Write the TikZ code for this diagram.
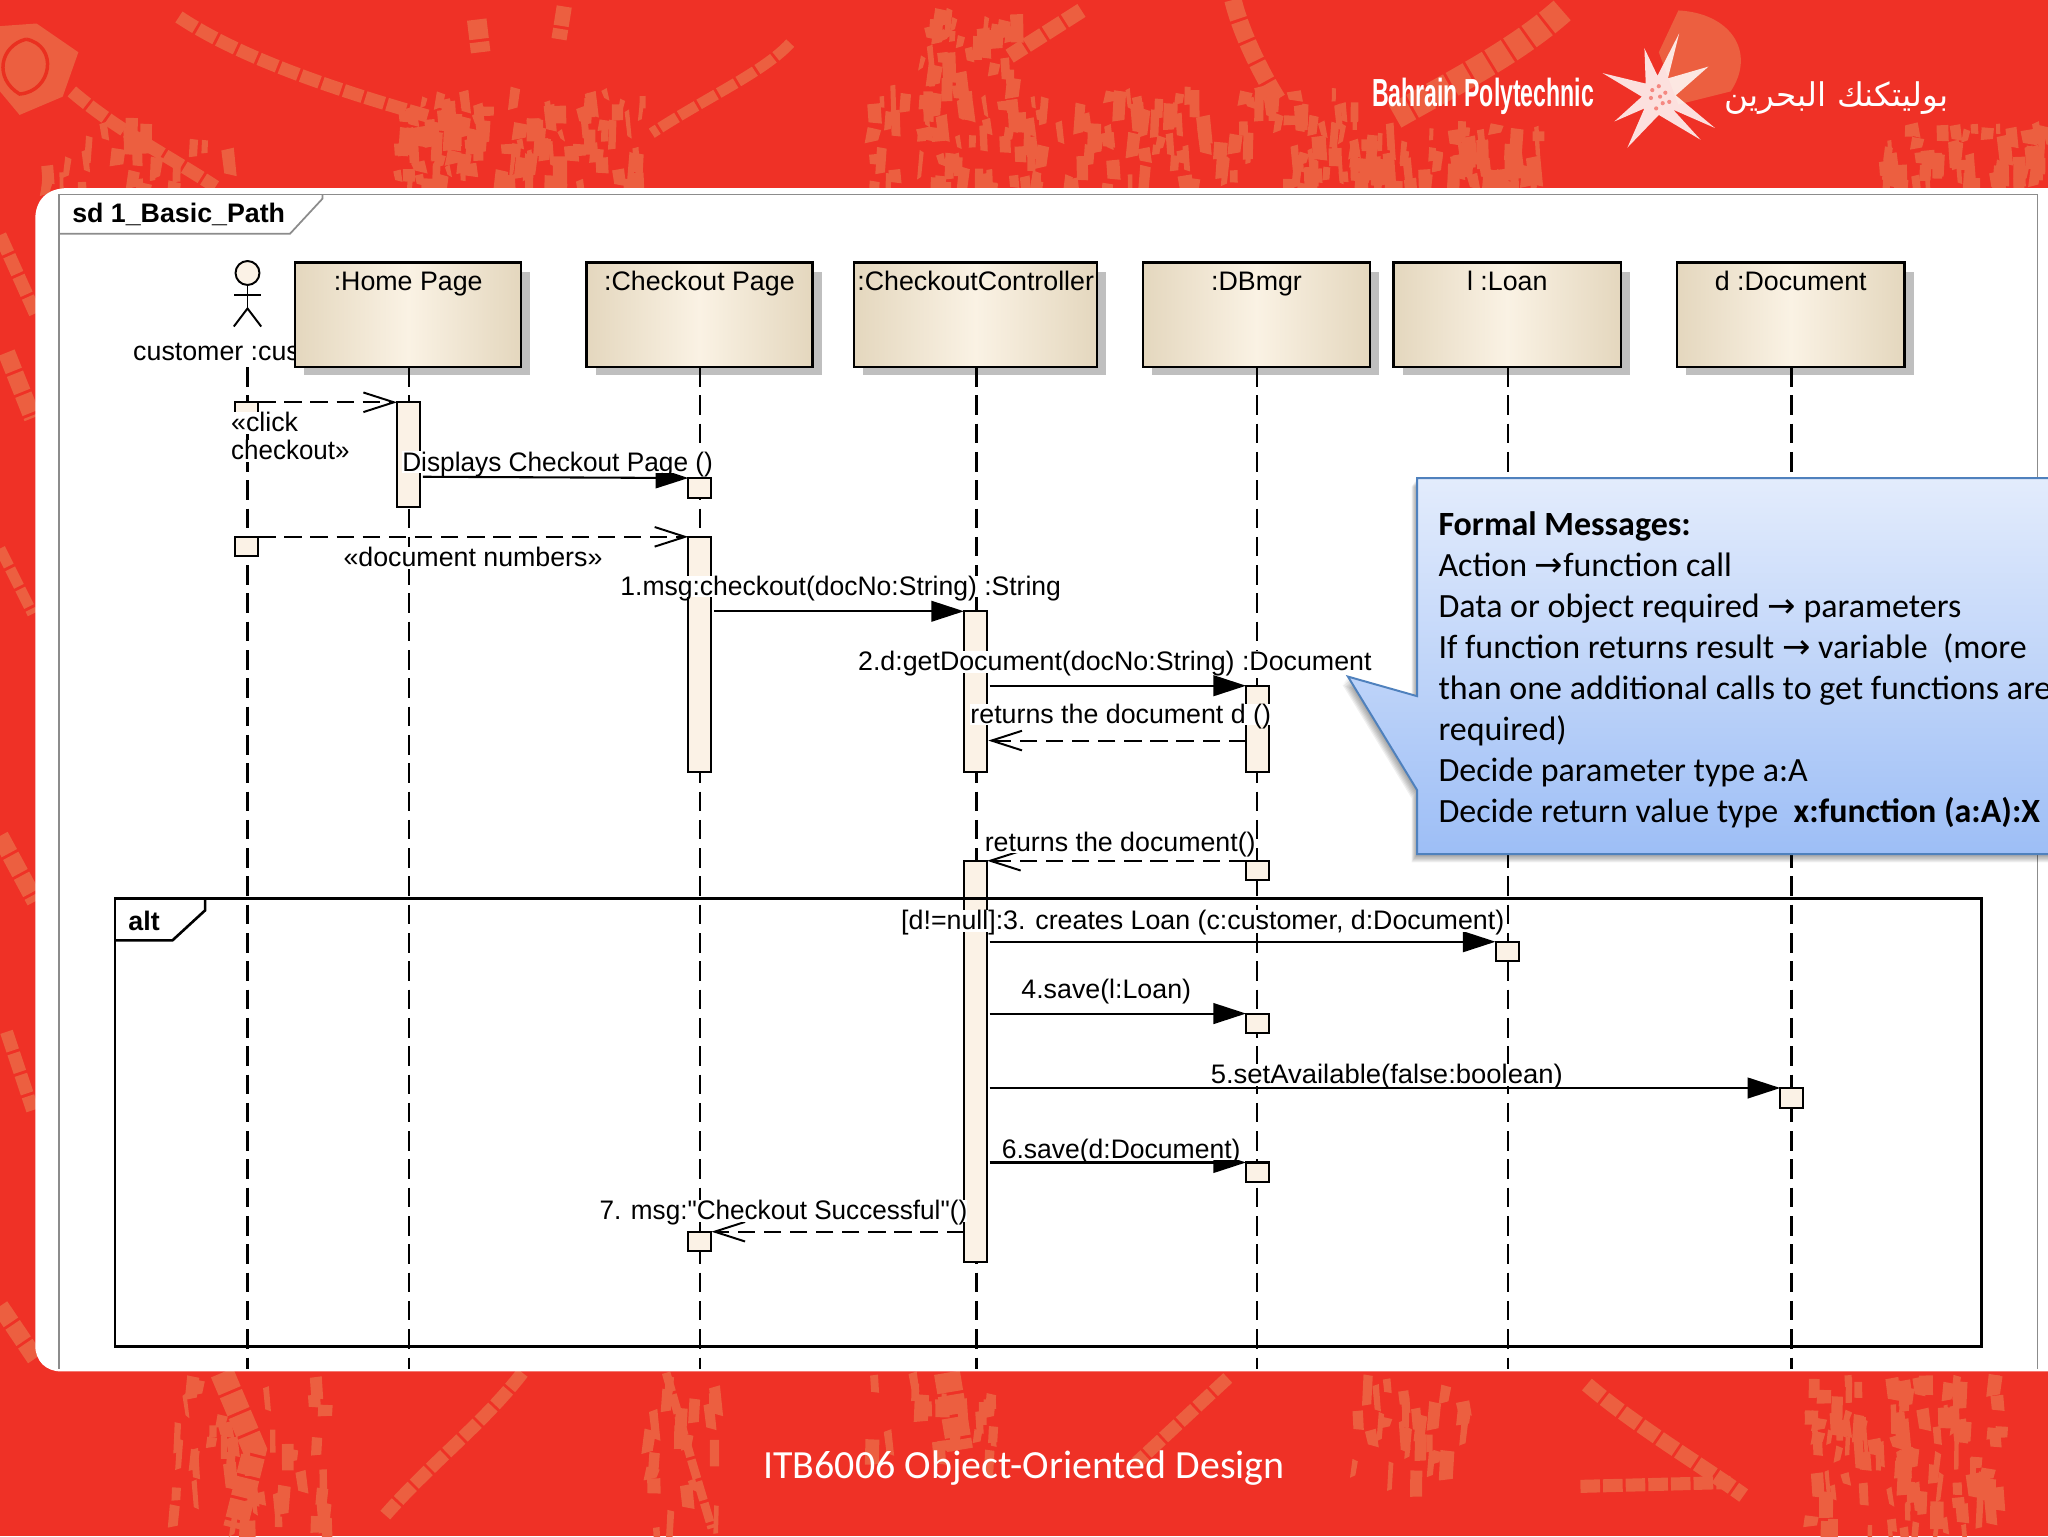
\documentclass[tikz,border=0pt]{standalone}
\usepackage{fontspec}
\usetikzlibrary{arrows.meta,calc}
\setmainfont{Liberation Sans}[Ligatures=TeXOff]
\newfontfamily\calfont{Carlito}
\newfontfamily\arrowfont{DejaVu Sans}
\newfontfamily\arabicfont[Script=Arabic]{DejaVu Sans}
\TeXXeTstate=1
\definecolor{bgred}{HTML}{EF3126}
\definecolor{patch}{HTML}{EC5F40}
\definecolor{netline}{HTML}{EA3020}
\definecolor{barfill}{HTML}{FBF2E6}
\definecolor{boxedge}{HTML}{E4D7BE}
\definecolor{boxmid}{HTML}{FAF2E4}
\definecolor{callborder}{HTML}{4F81BD}
\definecolor{calltop}{HTML}{E3ECFC}
\definecolor{callbot}{HTML}{9DBEF6}
\newcommand{\texnet}[5]{%
  \foreach \n in {1,...,#5}{%
    \pgfmathsetmacro{\qx}{#1+rnd*(#2-#1)}%
    \pgfmathsetmacro{\qy}{#3+rnd*(#4-#3)}%
    \pgfmathsetmacro{\qw}{3+rnd*8}%
    \pgfmathsetmacro{\qh}{7+rnd*16}%
    \pgfmathsetmacro{\qs}{(rnd-.5)*5}%
    \fill[patch] (\qx,\qy) -- (\qx+\qw,\qy+\qs) -- (\qx+\qw-\qs,\qy+\qh) -- (\qx-\qs,\qy+\qh+\qs) -- cycle;
  }%
}
\tikzset{
  x=0.6pt,y=-0.6pt,
  band/.style={patch,line width=#1,dash pattern=on 9pt off 1.4pt},
  band/.default=8pt,
  lbl/.style={fill=white,inner sep=0pt,outer sep=0pt,anchor=west,text height=9pt,text depth=1pt,font=\fontsize{12.3}{14}\selectfont},
  head/.style={inner sep=0pt,text height=9pt,text depth=1pt,font=\fontsize{12.3}{14}\selectfont},
  lifebox/.style={draw=black,line width=1.1pt,left color=boxedge,right color=boxedge,middle color=boxmid,anchor=north west,minimum height=48pt,inner sep=0pt,outer sep=0pt},
  boxshadow/.style={fill=black!25},
  lifeline/.style={line width=.95pt,dash pattern=on 9pt off 4pt},
  actbar/.style={draw=black,line width=.95pt,fill=barfill,anchor=north west,minimum width=10.6pt,minimum height=#1*0.6pt,inner sep=0pt,outer sep=0pt},
  actbar/.default=15,
  syncmsg/.style={line width=.95pt,-{Triangle[length=15pt,width=9.5pt]}},
  retmsg/.style={line width=.95pt,dash pattern=on 8pt off 4pt,-{Straight Barb[length=14pt,width=9pt,line width=.9pt]}},
  altframe/.style={draw=black,line width=1.2pt},
}
\begin{document}
\begin{tikzpicture}
\useasboundingbox (0,0) rectangle (1568,1176);
\clip (0,0) rectangle (1568,1176);
\fill[bgred] (0,0) rectangle (1568,1176);
\pgfmathsetseed{4242}
% --- texture, top strip
\fill[patch] (0,20) -- (28,18) -- (60,40) -- (48,74) -- (15,88) -- (0,70) -- cycle;
\draw[netline,line width=1.6pt] (20,30) .. controls (45,35) and (40,70) .. (15,72) .. controls (-5,60) and (0,35) .. (20,30);
\draw[band=6pt] (55,70) .. controls (90,100) and (130,120) .. (165,143);
\draw[band=6pt] (137,13) .. controls (170,35) and (225,60) .. (328,89);
\draw[band=9pt] (365,15) -- (368,40);
\draw[band=7pt] (432,5) -- (428,30);
\draw[band=5pt] (605,33) .. controls (585,55) and (540,75) .. (499,102);
\draw[band=7pt] (828,8) -- (773,43);
\draw[band=8pt] (944,0) .. controls (950,25) and (965,55) .. (978,76);
\draw[band=12pt] (1196,8) .. controls (1160,40) and (1110,65) .. (1068,89);
\fill[patch] (1285,8) .. controls (1325,10) and (1345,40) .. (1325,70) -- (1285,80) -- (1270,40) -- cycle;
\texnet{300}{490}{66}{140}{110}
\texnet{704}{780}{3}{60}{30}
\texnet{663}{1040}{64}{140}{160}
\texnet{1031}{1177}{90}{140}{70}
\texnet{1433}{1565}{94}{138}{60}
\texnet{30}{170}{90}{140}{25}
% --- left strip
\draw[band=6pt] (0,180) -- (27,240);
\draw[band=8pt] (5,270) -- (25,320);
\draw[band=5pt] (0,420) -- (25,470);
\draw[band=8pt] (0,640) -- (27,690);
\draw[band=6pt] (5,790) -- (25,850);
\draw[band=8pt] (0,1000) -- (27,1040);
% --- texture, bottom strip
\draw[band=11pt] (170,1051) -- (195,1110) -- (180,1170);
\draw[band=6pt] (400,1051) .. controls (370,1090) and (330,1120) .. (295,1160);
\draw[band=4pt] (510,1051) -- (530,1120) -- (545,1170);
\draw[band=12pt] (725,1051) -- (735,1110);
\draw[band=6pt] (940,1055) -- (870,1120);
\draw[band=7pt] (1215,1060) .. controls (1250,1090) and (1300,1120) .. (1335,1145);
\draw[band=6pt] (1210,1138) -- (1325,1135);
\texnet{130}{250}{1051}{1170}{45}
\texnet{490}{550}{1051}{1170}{20}
\texnet{660}{760}{1051}{1110}{22}
\texnet{1035}{1120}{1051}{1130}{28}
\texnet{1380}{1530}{1051}{1170}{110}
% --- logo
\node[white,inner sep=0pt,font=\fontsize{18}{20}\bfseries\selectfont] (logoen) at (1135.5,74) {\scalebox{.59}[1]{Bahrain Polytechnic}};
\coordinate (starc) at (1270,74);
\fill[white,opacity=.85] (1285.6,25.5) -- (1277,60) -- (1308,51) -- (1283,73) -- (1313,98) -- (1281,84) -- (1302,107) -- (1270,88) -- (1246,113) -- (1259,83) -- (1236,93) -- (1257,74) -- (1227,56) -- (1260,64) -- (1259,37) -- (1269,58) -- cycle;
\foreach \dx/\dy in {0/-8,5/-3,-6/1,3/5,-2/9,8/4,-5/-5,1/0}{
  \fill[bgred,opacity=.5] ($(starc)+(\dx,\dy)$) circle (1.6);
}
\node[white,inner sep=0pt,font=\fontsize{15}{18}\selectfont\arabicfont] (logoar) at (1406,75) {\beginR بوليتكنك البحرين\endR};
% --- panel
\fill[white] (1568,144) -- (52,144) .. controls (36,144) and (27,153) .. (27,168) -- (27,1030) .. controls (27,1042) and (35,1050) .. (47,1050) -- (1568,1050) -- cycle;
% --- diagram frame
\draw[black!45,line width=.8pt] (45,1048) -- (45,149) -- (1560,149) -- (1560,1048);
\draw[black!45,line width=.8pt] (247,149) -- (247,152) -- (222,179) -- (45,179);
\node[inner sep=0pt,anchor=west,font=\fontsize{12.3}{14}\bfseries\selectfont] (sdname) at (55,164.5) {sd 1\_Basic\_Path};
\coordinate (lifeend) at (0,1048);
% --- actor
\node[draw=black,circle,fill=barfill,line width=.9pt,minimum size=11pt,inner sep=0pt,outer sep=0pt] (actor) at (189.5,209) {};
\draw[line width=.9pt] (actor.south) -- ++(0,18) coordinate (hip);
\draw[line width=.9pt] ($(actor.south)+(-10,8)$) -- ++(20,0);
\draw[line width=.9pt] (179,250) -- (hip) -- (200,250);
\node[lbl] (custlbl) at (102,269) {customer :customer};
% --- lifelines boxes
\foreach \nm/\xx/\ww/\ttxt in {home/226/173/:Home Page,chk/449/173/:Checkout Page,ctl/654/186/:CheckoutController,db/875/174/:DBmgr,loan/1067/174/l :Loan,doc/1284/174/d :Document}{
  \fill[boxshadow] (\xx+7,208) rectangle (\xx+\ww+7,287);
  \node[lifebox,minimum width=\ww*0.6pt] (\nm) at (\xx,201) {};
  \node[head] (\nm txt) at ($(\nm.north)+(0,15)$) {\ttxt};
}
\foreach \nm in {home,chk,ctl,db,loan,doc}{
  \draw[lifeline] ($(\nm.south)+(.6,0)$) -- ($(\nm.south |- lifeend)+(.6,0)$);
}
\draw[lifeline] (actor.south |- home.south) -- (actor.south |- lifeend);
% --- activation bars
\node[actbar] (aA) at (180,308) {};
\node[actbar=80] (hA) at (304,308) {};
\node[actbar] (cS) at (527,366) {};
\node[actbar] (aB) at (180,411) {};
\node[actbar=180] (cA) at (527,411) {};
\node[actbar=123] (tA) at (738,468) {};
\node[actbar=66] (dA) at (954,525) {};
\node[actbar] (dR) at (954,659) {};
\node[actbar=307] (tB) at (738,659) {};
\node[actbar] (lS) at (1145,721) {};
\node[actbar] (dS) at (954,776) {};
\node[actbar] (oS) at (1363,833) {};
\node[actbar] (dT) at (954,890) {};
\node[actbar] (cT) at (527,943) {};
% --- messages
\draw[retmsg] (aA.north east) -- (hA.north west);
\draw[syncmsg] ($(hA.north east)+(2,57)$) -- (cS.north west);
\draw[retmsg] (aB.north east) -- (cA.north west);
\draw[syncmsg] ($(cA.north east)+(2,57)$) -- (tA.north west);
\draw[syncmsg] ($(tA.north east)+(2,57)$) -- (dA.north west);
\draw[retmsg] ($(dA.north west)+(0,42)$) -- ($(tA.north east)+(1,99)$);
\draw[retmsg] (dR.north west) -- (tB.north east);
\draw[syncmsg] ($(tB.north east)+(2,62)$) -- (lS.north west);
\draw[syncmsg] ($(tB.north east)+(2,117)$) -- (dS.north west);
\draw[syncmsg] ($(tB.north east)+(2,174)$) -- (oS.north west);
\draw[syncmsg] ($(tB.north east)+(2,231)$) -- (dT.north west);
\draw[retmsg] ($(tB.north west)+(0,284)$) -- (cT.north east);
% --- alt fragment
\draw[altframe] (88,688) rectangle (1517,1031);
\draw[altframe] (157,688) -- (157,697) -- (132,720) -- (88,720);
\node[inner sep=0pt,anchor=west,font=\fontsize{12.3}{14}\bfseries\selectfont] (altname) at (98,705) {alt};
% --- labels
\node[lbl] (clickA) at (177,324) {«click};
\node[lbl] (clickB) at (177,345.5) {\scalebox{.97}[1]{checkout»}};
\node[lbl] (mDisp) at (308,354) {\scalebox{.98}[1]{Displays Checkout Page ()}};
\node[lbl] (mDoc) at (263,427) {«document numbers»};
\node[lbl] (m1) at (475,449) {\scalebox{.99}[1]{1.msg:checkout(docNo:String) :String}};
\node[lbl] (m2) at (657,507) {2.d:getDocument(docNo:String) :Document};
\node[lbl] (mRet) at (743,547) {returns the document d ()};
\node[lbl] (mRetB) at (754,645) {returns the document()};
\node[lbl] (m3) at (690,705) {[d!=null]:3. creates Loan (c:customer, d:Document)};
\node[lbl] (m4) at (782,758) {4.save(l:Loan)};
\node[lbl] (m5) at (927,823) {\scalebox{1.025}[1]{5.setAvailable(false:boolean)}};
\node[lbl] (m6) at (767,880) {\scalebox{.99}[1]{6.save(d:Document)}};
\node[lbl] (m7) at (459,927) {\scalebox{.975}[1]{7. msg:"Checkout Successful"()}};
% --- callout
\def\calloutpath{(1085,366) -- (1600,366) -- (1600,654) -- (1085,654) -- (1085,605) -- (1032,518) -- (1085,533) -- cycle}
\foreach \i in {7,...,1}{
  \fill[black,opacity=.06,shift={(-\i*0.6,\i*0.9)}] \calloutpath;
}
\shade[top color=calltop,bottom color=callbot] \calloutpath;
\draw[callborder,line width=.9pt] \calloutpath;
\node[inner sep=0pt,anchor=north west,align=left,font=\calfont\fontsize{15.6}{18.84}\selectfont] (calltext) at (1101,391.5) {\textbf{Formal Messages:}\\
Action {\arrowfont →}function call\\
Data or object required {\arrowfont →} parameters\\
If function returns result {\arrowfont →} variable\ \ (more\\
than one additional calls to get functions are\\
required)\\
Decide parameter type a:A\\
Decide return value type\ \ \textbf{x:function (a:A):X}};
% --- footer
\node[white,inner sep=0pt,font=\calfont\fontsize{18.35}{20}\selectfont] (footer) at (784,1124) {ITB6006 Object-Oriented Design};
\end{tikzpicture}
\end{document}
